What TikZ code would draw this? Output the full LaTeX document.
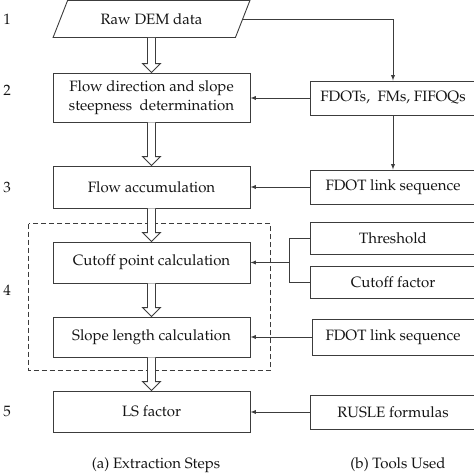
\documentclass[tikz,border=0pt]{standalone}
\usepackage[T1]{fontenc}
\usepackage{mathpazo}
\usepackage{tikz}
\usetikzlibrary{shapes.geometric,arrows,calc}
\tikzstyle{io} = [trapezium, trapezium left angle=62, trapezium right angle=118, trapezium stretches=true, minimum width=197pt, minimum height=37pt, text centered, draw=linegray]
\tikzstyle{stepbox} = [rectangle, minimum width=197pt, minimum height=41pt, draw=linegray, text centered, align=center]
\tikzstyle{toolbox} = [rectangle, minimum width=166pt, minimum height=34pt, draw=linegray, text centered]
\tikzstyle{dashbox} = [draw=linegray, dash pattern=on 5pt off 3pt]
\tikzstyle{arrow} = [->,>=latex,draw=linegray]
\definecolor{linegray}{RGB}{60,60,60}
\definecolor{textgray}{RGB}{20,20,20}
\newcommand{\hollowarrow}[2]{\draw[linegray, fill=white] ($(#1.south)+(-4pt,0)$) -- ($(#2.north)+(-4pt,9pt)$) -- ($(#2.north)+(-9pt,9pt)$) -- (#2.north) -- ($(#2.north)+(9pt,9pt)$) -- ($(#2.north)+(4pt,9pt)$) -- ($(#1.south)+(4pt,0)$);}

\begin{document}
\begin{tikzpicture}[font=\fontsize{15}{18.5}\selectfont, text=textgray, line width=0.9pt, node distance=75pt]
\useasboundingbox (0,0) rectangle (474pt,-474pt);
\clip (0,0) rectangle (474pt,-474pt);
\node (raw) [io] at (151.5pt,-19pt) {Raw DEM data};
\node (flowdir) [stepbox, below of=raw, yshift=-3.5pt, minimum height=49pt] {Flow direction and slope\\steepness\ \ determination};
\node (flowacc) [stepbox, below of=flowdir, yshift=-14.5pt, minimum height=42pt] {Flow accumulation};
\node (cutoff) [stepbox, below of=flowacc, yshift=-0.5pt] {Cutoff point calculation};
\node (slopelen) [stepbox, below of=cutoff, yshift=0.5pt, minimum height=40pt] {Slope length calculation};
\node (lsfac) [stepbox, below of=slopelen, yshift=0.5pt] {LS factor};
\node (fdots) [toolbox, right of=flowdir, xshift=166.5pt, yshift=-0.5pt] {FDOTs,\ \ FMs, FIFOQs};
\node (fdotlink) [toolbox, right of=flowacc, xshift=166.5pt] {FDOT link sequence};
\node (threshold) [toolbox, right of=cutoff, xshift=166.5pt, yshift=24.5pt, minimum height=32pt] {Threshold};
\node (cutfac) [toolbox, right of=cutoff, xshift=166.5pt, yshift=-19.5pt, minimum height=32pt] {Cutoff factor};
\node (slopetool) [toolbox, right of=slopelen, xshift=166.5pt, minimum width=162pt, minimum height=36pt] {FDOT link sequence};
\node (rusle) [toolbox, right of=lsfac, xshift=166.5pt, yshift=-0.5pt] {RUSLE formulas};
\node (s1) [left of=raw, xshift=-69.5pt] {1};
\node (s2) [left of=flowdir, xshift=-69.5pt, yshift=7.5pt] {2};
\node (s3) [left of=flowacc, xshift=-69.5pt] {3};
\node (s4) [left of=cutoff, xshift=-69.5pt, yshift=-27.5pt] {4};
\node (s5) [left of=lsfac, xshift=-69.5pt] {5};
\node (capa) [below of=lsfac, xshift=4.5pt, yshift=21.5pt] {(a) Extraction Steps};
\node (capb) [below of=rusle, xshift=5pt, yshift=22pt] {(b) Tools Used};
\draw[dashbox] ($(cutoff.north west)+(-24pt,18pt)$) rectangle ($(slopelen.south east)+(20pt,-13pt)$);
\foreach \a/\b in {raw/flowdir, flowdir/flowacc, flowacc/cutoff, cutoff/slopelen, slopelen/lsfac}
  \hollowarrow{\a}{\b};
\draw[arrow] (raw.east) -| (fdots.north);
\draw[arrow] (fdots.west) -- (fdots.west -| flowdir.east);
\draw[arrow] (fdots.south) -- (fdotlink.north);
\draw[arrow] (fdotlink.west) -- (fdotlink.west -| flowacc.east);
\coordinate (junc) at ($(cutoff.east)+(39pt,0)$);
\draw[linegray] (threshold.west) -| (junc) |- (cutfac.west);
\draw[arrow] (junc) -- (cutoff.east);
\draw[arrow] (slopetool.west) -- (slopetool.west -| slopelen.east);
\draw[arrow] (rusle.west) -- (rusle.west -| lsfac.east);
\end{tikzpicture}
\end{document}
